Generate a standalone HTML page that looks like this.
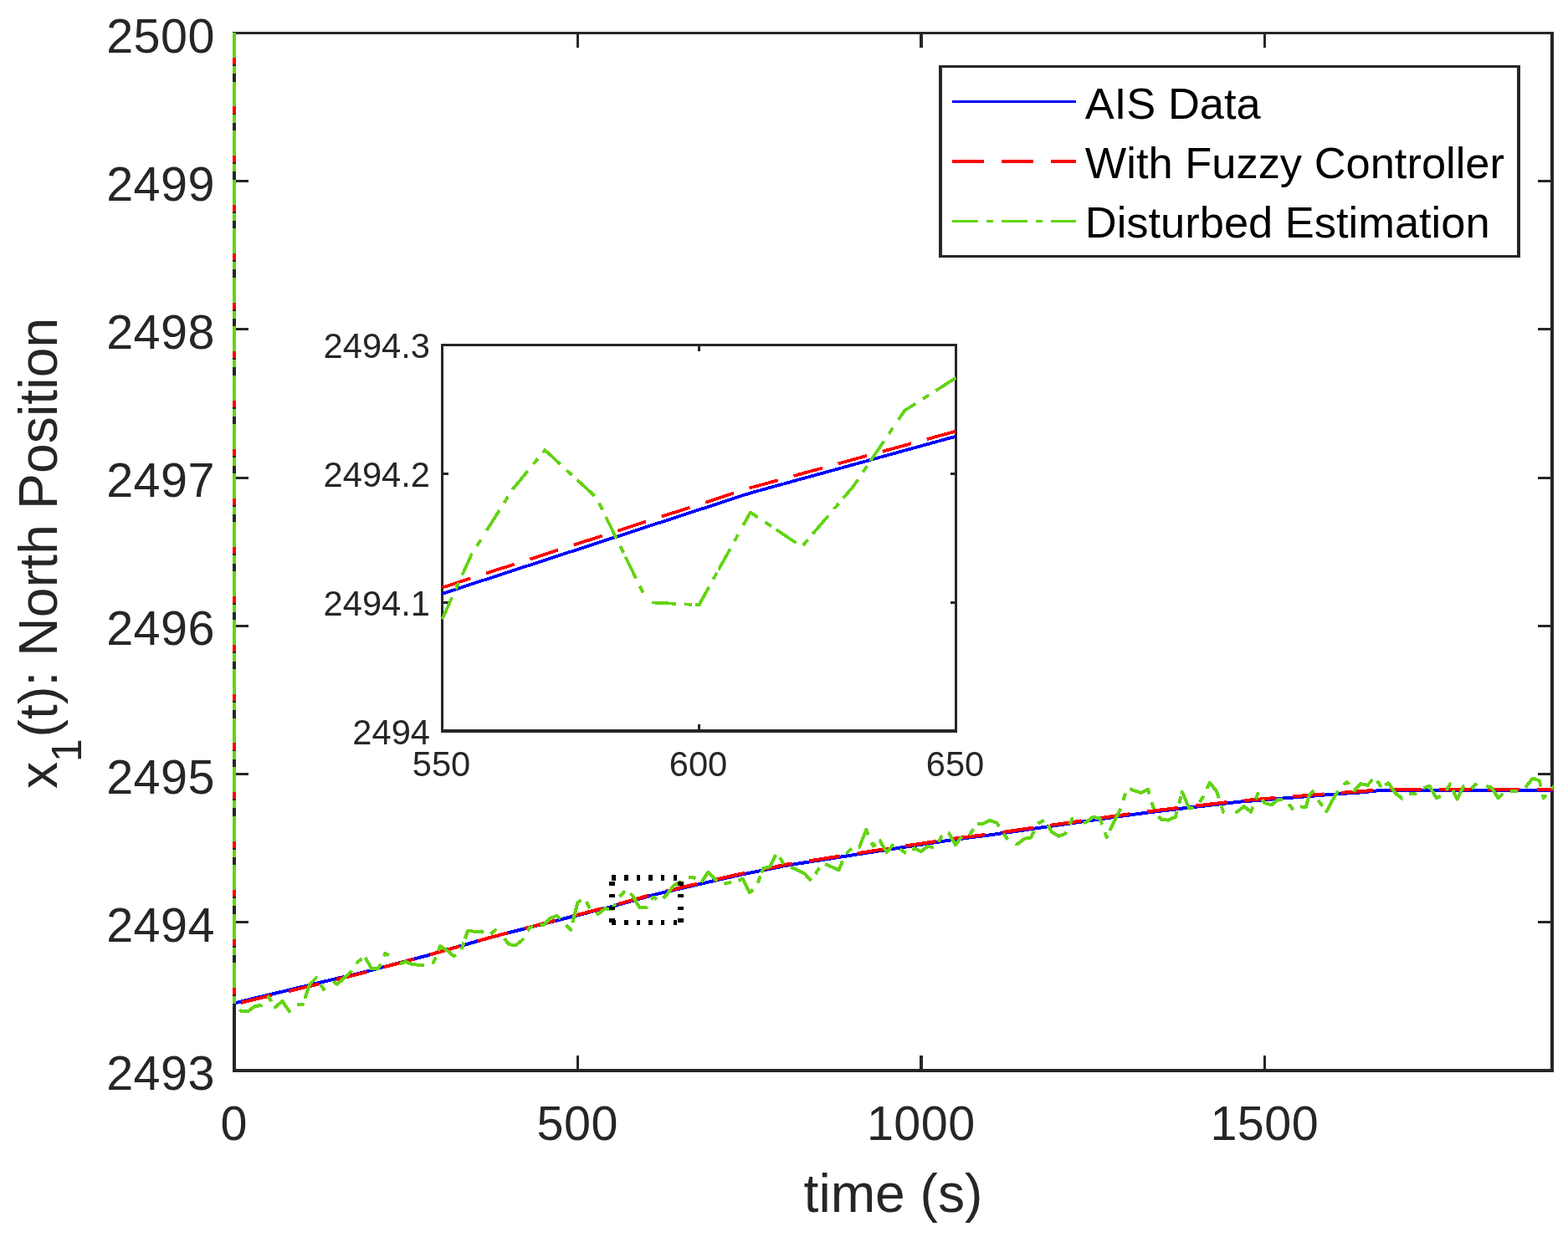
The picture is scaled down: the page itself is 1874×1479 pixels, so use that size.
<!DOCTYPE html>
<html lang="en"><head><meta charset="utf-8"><title>x1(t): North Position</title>
<style>html,body{margin:0;padding:0;background:#fff;overflow:hidden}svg{display:block}text{font-family:"Liberation Sans", Arial, Helvetica, sans-serif;fill:#262626}.tk{font-size:57.5px;letter-spacing:.45px}.lb{font-size:64.17px}.lg{font-size:52.45px}.lg text{fill:#000}.it{font-size:41.67px}.ax{fill:#262626;shape-rendering:crispEdges}.d{fill:none;stroke-width:4.0;stroke-linejoin:round;shape-rendering:crispEdges}</style></head><body>
<svg width="1874" height="1479" viewBox="0 0 1874 1479" role="img" aria-label="x1(t): North Position versus time">
<rect width="1874" height="1479" fill="#fff"/>
<defs><clipPath id="cm"><rect x="278" y="39" width="1578.5" height="1243"/></clipPath><clipPath id="ci"><rect x="527" y="411" width="617" height="465"/></clipPath></defs>
<g class="ax">
<rect x="278" y="38" width="4" height="1244"/>
<rect x="1853" y="38" width="4" height="1244"/>
<rect x="278" y="38" width="1579" height="3"/>
<rect x="278" y="1278" width="1579" height="4"/>
<rect x="689" y="1262" width="3" height="18"/>
<rect x="689" y="40" width="3" height="17"/>
<rect x="1099" y="1262" width="4" height="18"/>
<rect x="1099" y="40" width="4" height="17"/>
<rect x="1510" y="1262" width="3" height="18"/>
<rect x="1510" y="40" width="3" height="17"/>
<rect x="281" y="1101" width="16" height="3"/>
<rect x="1838" y="1101" width="17" height="3"/>
<rect x="281" y="924" width="16" height="3"/>
<rect x="1838" y="924" width="17" height="3"/>
<rect x="281" y="747" width="16" height="3"/>
<rect x="1838" y="747" width="17" height="3"/>
<rect x="281" y="570" width="16" height="3"/>
<rect x="1838" y="570" width="17" height="3"/>
<rect x="281" y="392" width="16" height="3"/>
<rect x="1838" y="392" width="17" height="3"/>
<rect x="281" y="215" width="16" height="3"/>
<rect x="1838" y="215" width="17" height="3"/>
</g>
<g class="tk" text-anchor="end">
<text x="256.9" y="1303">2493</text>
<text x="256.9" y="1125.79">2494</text>
<text x="256.9" y="948.57">2495</text>
<text x="256.9" y="771.36">2496</text>
<text x="256.9" y="594.14">2497</text>
<text x="256.9" y="416.93">2498</text>
<text x="256.9" y="239.71">2499</text>
<text x="256.9" y="62.5">2500</text>
</g>
<g class="tk" text-anchor="middle">
<text x="279.65" y="1362.5">0</text>
<text x="690.2" y="1362.5">500</text>
<text x="1100.75" y="1362.5">1000</text>
<text x="1511.3" y="1362.5">1500</text>
</g>
<text class="lb" text-anchor="middle" x="1067.5" y="1449">time (s)</text>
<text class="lb" transform="translate(68 943) rotate(-90)">x<tspan dy="28.7" font-size="50px">1</tspan><tspan dy="-28.7" dx="1.5" letter-spacing="0.15">(t): North Position</tspan></text>
<g class="d" clip-path="url(#cm)">
<polyline stroke="#0000ff" points="279.85,1199.46 398.09,1171.01 430.03,1163.69 509.76,1142.66 579.96,1122.6 605.83,1115.72 699.43,1091.98 731.46,1083.88 780.72,1070 813.57,1062.2 879.99,1047 940.01,1034.74 1030.01,1020.59 1139.54,1003.9 1180.02,998.76 1330.04,977.14 1380.12,970.41 1479.97,958.78 1600.18,949.14 1629.98,947.19 1646.98,945.3 1860.47,945.3"/>
<path stroke="#ff0000" stroke-dasharray="37.2 21.34" d="M280 39.8V1199.46"/>
<path stroke="#ff0000" d="M288 1198.82L288.06 1198.81L292.17 1197.82L296.27 1196.83L300.38 1195.85L304.48 1194.86L308.59 1193.87L312.69 1192.88L316.8 1191.9L320.91 1190.91L324.56 1190.03M345.1 1185.09L345.54 1184.98L349.64 1184L353.75 1183.01L357.85 1182.02L361.96 1181.03L366.07 1180.05L370.17 1179.06L374.28 1178.07L378.38 1177.08L381.66 1176.29M401.9 1171.21L403.02 1170.93L407.12 1169.92L411.23 1168.91L415.33 1167.9L419.44 1166.89L423.54 1165.88L427.65 1164.87L431.75 1163.8L435.86 1162.65L438.34 1161.95M458.8 1156.41L460.49 1155.96L464.6 1154.86L468.7 1153.77L472.81 1152.67L476.91 1151.57L481.02 1150.48L485.12 1149.38L489.23 1148.28L493.34 1147.19L495.13 1146.71M513.9 1141.6L517.97 1140.43L522.07 1139.24L526.18 1138.05L530.29 1136.87L534.39 1135.68L538.5 1134.5L542.6 1133.31L546.71 1132.12L550.02 1131.17M571.1 1125.07L571.34 1125L575.45 1123.82L579.55 1122.63L583.66 1121.52L587.76 1120.41L591.87 1119.31L595.97 1118.2L600.08 1117.1L604.18 1115.99L607.37 1115.16M627.2 1110.03L628.82 1109.61L632.92 1108.55L637.03 1107.48L641.13 1106.42L645.24 1105.36L649.35 1104.3L653.45 1103.24L657.56 1102.17L661.66 1101.11L663.6 1100.61M683.6 1095.44L686.29 1094.74L690.4 1093.68L694.51 1092.61L698.61 1091.55L702.72 1090.49L706.82 1089.43L710.93 1088.37L715.03 1087.32L719.14 1086.26L720.01 1086.03M738.8 1081L739.67 1080.75L743.77 1079.59L747.88 1078.43L751.98 1077.26L756.09 1076.1L760.19 1074.94L764.3 1073.77L768.4 1072.61L772.51 1071.45L774.98 1070.75M796.8 1065.27L797.14 1065.19L801.25 1064.21L805.35 1063.23L809.46 1062.25L813.57 1061.26L817.67 1060.32L821.78 1059.37L825.88 1058.42L829.99 1057.48L833.41 1056.69M853.2 1052.12L854.62 1051.8L858.73 1050.85L862.83 1049.9L866.94 1048.96L871.04 1048.01L875.15 1047.06L879.25 1046.12L883.36 1045.25L887.46 1044.41L889.89 1043.91M910.1 1039.74L912.1 1039.33L916.2 1038.48L920.31 1037.64L924.41 1036.79L928.52 1035.95L932.62 1035.1L936.73 1034.25L940.84 1033.45L944.94 1032.81L946.99 1032.49M966.9 1029.36L969.57 1028.94L973.68 1028.29L977.79 1027.65L981.89 1027L986 1026.36L990.1 1025.71L994.21 1025.06L998.31 1024.42L1002.42 1023.77L1004.04 1023.52M1025 1020.22L1027.05 1019.9L1031.16 1019.26L1035.26 1018.64L1039.37 1018.01L1043.47 1017.38L1047.58 1016.76L1051.68 1016.13L1055.79 1015.51L1059.89 1014.88L1062.17 1014.53M1081.9 1011.52L1084.53 1011.12L1088.63 1010.5L1092.74 1009.87L1096.84 1009.25L1100.95 1008.62L1105.06 1007.99L1109.16 1007.37L1113.27 1006.74L1117.37 1006.12L1119.07 1005.86M1139.5 1002.77L1142.01 1002.42L1146.11 1001.9L1150.22 1001.38L1154.32 1000.86L1158.43 1000.34L1162.53 999.82L1166.64 999.29L1170.74 998.77L1174.85 998.25L1176.8 998M1198.2 994.97L1199.48 994.79L1203.59 994.2L1207.69 993.61L1211.8 993.01L1215.9 992.42L1220.01 991.83L1224.12 991.24L1228.22 990.65L1232.33 990.05L1235.42 989.61M1255 986.78L1256.96 986.5L1261.06 985.91L1265.17 985.32L1269.28 984.73L1273.38 984.13L1277.49 983.54L1281.59 982.95L1285.7 982.36L1289.8 981.77L1292.22 981.42M1313 978.42L1314.44 978.22L1318.54 977.62L1322.65 977.03L1326.75 976.44L1330.86 975.86L1334.96 975.3L1339.07 974.75L1343.17 974.2L1347.28 973.65L1350.24 973.25M1371.2 970.43L1371.91 970.33L1376.02 969.78L1380.12 969.23L1384.23 968.75L1388.34 968.27L1392.44 967.79L1396.55 967.32L1400.65 966.84L1404.76 966.36L1408.53 965.92M1429.3 963.5L1429.39 963.49L1433.5 963.01L1437.6 962.53L1441.71 962.06L1445.81 961.58L1449.92 961.1L1454.02 960.62L1458.13 960.14L1462.23 959.66L1466.34 959.19L1466.65 959.15M1487.1 957.03L1490.97 956.72L1495.08 956.39L1499.18 956.06L1503.29 955.73L1507.39 955.4L1511.5 955.07L1515.61 954.74L1519.71 954.41L1523.82 954.08L1524.58 954.02M1545.1 952.37L1548.45 952.1L1552.56 951.77L1556.66 951.44L1560.77 951.11L1564.87 950.78L1568.98 950.45L1573.08 950.13L1577.19 949.8L1581.29 949.47L1582.58 949.36M1603.2 947.75L1605.93 947.57L1610.03 947.31L1614.14 947.04L1618.24 946.77L1622.35 946.5L1626.45 946.23L1630.56 945.94L1634.66 945.48L1638.77 945.02L1640.68 944.81M1661 944.1L1663.4 944.1L1667.51 944.1L1671.61 944.1L1675.72 944.1L1679.83 944.1L1683.93 944.1L1688.04 944.1L1692.14 944.1L1696.25 944.1L1698.6 944.1M1719.9 944.1L1720.88 944.1L1724.99 944.1L1729.09 944.1L1733.2 944.1L1737.3 944.1L1741.41 944.1L1745.51 944.1L1749.62 944.1L1753.72 944.1L1757.5 944.1M1778 944.1L1778.36 944.1L1782.46 944.09L1786.57 944.09L1790.67 944.09L1794.78 944.09L1798.89 944.09L1802.99 944.09L1807.1 944.09L1811.2 944.09L1815.31 944.09L1815.6 944.09M1837 944.09L1839.94 944.09L1844.05 944.09L1848.15 944.09L1852.26 944.09L1856.36 944.09L1860.47 944.09"/>
<path stroke="#63d412" stroke-dasharray="29.9 10 9.3 9.34" d="M280 39V1200.3"/>
<path stroke="#63d412" d="M286.2 1206.99L288.06 1209L296.27 1209.2L304.48 1203.2L312.69 1201.8L312.92 1201.53M319.32 1193.98L320.91 1192.1L324.48 1197.46M328.1 1202.88L329.12 1204.4L337.33 1196.8L345.54 1208.8L347.17 1207.27M354.63 1201.08L361.96 1200.9L362.47 1199.41M364.3 1194.03L370.17 1176.8L378.38 1168.7L378.41 1168.75M383.39 1177.31L386.59 1182.8L388.06 1180.72M398.1 1173.45L403.02 1176.8L411.23 1169.5L419.44 1161.8L420.36 1160.48M426.01 1152.35L427.65 1150L432.41 1146.29M436.6 1144.94L444.07 1158.4L452.28 1158.1L454.81 1152.46M458.87 1143.42L460.49 1139.8L464.77 1142.25M478.1 1152.22L485.12 1150L493.34 1153.4L501.55 1153.6L506.87 1153.92M516.28 1151.56L517.97 1150.9L520.69 1144.35M523.7 1137.08L526.18 1131.1L534.39 1136.4L542.6 1143.4L544.86 1141.81M551.64 1135.12L554.44 1126.68M555.8 1122.6L559.02 1112.9L567.24 1113.7L575.45 1113.5L578.06 1115.19M586.22 1116.81L591.87 1112.4L593.27 1113.42M602.9 1122.11L608.29 1129.2L616.5 1130.2L624.71 1123.5L625.71 1121.74M630.59 1113.12L632.92 1109L636.95 1107.97M645.6 1106.41L649.35 1106L657.56 1097.9L665.77 1094.9L669.87 1098.94M676.76 1106.05L682.19 1112L682.39 1111.18M684.4 1103.14L690.4 1079.1L694.57 1076.31M700.8 1078.14L704.67 1086.15M712.2 1092.04L715.03 1092.8L723.24 1086.2L731.46 1087.4L735.48 1080.44M740.69 1072.06L746.65 1065.46M753.3 1068.53L756.09 1070.8L764.3 1085.1L772.51 1085.4L773.32 1084.14M778.7 1075.83L780.72 1072.7L785.21 1075.27M792.6 1073.69L797.14 1069.1L805.35 1058.7L813.57 1054.1L814.14 1053.75M822.74 1049.15L829.99 1049.5L831.34 1050.43M838.2 1055.1L846.41 1042.7L854.62 1051.2L857.1 1053.08M865.49 1056.79L871.04 1055.5L874.21 1055.11M882.4 1053.04L887.46 1050.7L895.68 1067.3L900.07 1063.66M905.6 1055.87L908.69 1047.52M910.1 1043.7L912.1 1038.3L920.31 1036.2L927.18 1022.23M932.04 1025.38L936.62 1033.02M945.1 1036.67L953.15 1040.4L961.36 1044.3L969.39 1053M974.55 1044.96L977.79 1039.6L979.82 1037.91M986.1 1032.85L994.21 1036.6L1002.42 1040.4L1007.07 1029.53M1011.24 1020.63L1017.73 1014.54M1026.3 1012.95L1027.05 1012.9L1035.26 992L1037.81 998.08M1041.63 1007.21L1043.47 1011.6L1046.74 1009.05M1051.2 1005.58L1051.68 1005.2L1059.89 1019.3L1067.92 1009.24M1075.68 1014.9L1076.32 1015.4L1082.7 1020.37M1090.4 1016.44L1092.74 1014.3L1100.95 1018L1109.16 1011.6L1116.04 1013.78M1121.54 1006.79L1125.58 999.6L1126.17 999.33M1133.6 995.89L1133.79 995.8L1142.01 1010.3L1149.69 999.91M1158.81 998.9L1163.11 991.11M1168.1 984.72L1174.85 984.8L1183.06 980.9L1191.27 983.9L1194.09 988.29M1199.43 996.63L1199.48 996.7L1204.6 1003.87M1213.5 1009.12L1215.9 1009.5L1224.12 1002.9L1232.33 1001.4L1236 993.75M1240.28 984.83L1240.54 984.3L1248.08 980.81M1252.4 986.77L1256.96 994.6L1265.17 999.7L1273.38 996.7L1274.34 994.58M1278.43 985.56L1281.59 978.6L1282.5 979.47M1295.1 984.31L1298.01 983.1L1306.22 976.9L1314.44 978.4L1317.15 985.94M1320.5 995.25L1322.65 1001.2L1323.73 998.86M1326.3 993.28L1330.86 983.4L1339.07 966.9L1339.22 966.44M1342.29 957.02L1345.04 948.56M1350.3 943.02L1355.49 945.3L1363.7 947.9L1371.91 943.6L1373.7 949.59M1376.52 959.08L1379.06 967.61M1384.5 975.94L1388.34 980.1L1396.55 980.6L1404.76 976.7L1406.57 970.12M1409.19 960.57L1411.54 951.99M1412.2 949.6L1412.97 946.8L1421.18 966.6L1426.52 965.43M1433.53 959.21L1437.6 953.7L1438.45 951.83M1442.5 942.96L1445.81 935.7L1454.02 946L1456.7 954.22M1459.77 963.63L1462.23 971.2L1463.14 971.45M1476.3 971.36L1478.66 970.5L1486.87 964.1L1495.08 970.7L1497.31 964.76M1500.8 955.5L1503.29 948.9L1504.39 950.39M1508.4 955.81L1511.5 960L1519.71 962.4L1527.92 955.6L1533.29 955.67M1540.33 961.38L1544.34 966.8L1546.4 966.17M1554.1 964.43L1560.77 965L1564.87 950.2L1568.98 946.4L1570.14 948.22M1575.49 956.55L1577.19 959.2L1580.65 963.79M1584.4 968.77L1585.4 970.1L1593.61 954.9L1599.19 945.58M1605.67 938.34L1610.03 935.1L1612.23 937.78M1617.7 944.44L1618.24 945.1L1626.45 937.2L1634.66 938.8L1640.39 931.62M1645.98 933.53L1650.66 941.1M1655.4 938.86L1659.3 936.2L1667.51 948.2L1675.72 954.7L1675.78 954.66M1684.13 949.39L1692.14 949L1692.82 948.44M1701.1 942L1708.56 940L1716.78 954.2L1721.92 951.82M1728.49 944.9L1733.2 937.5L1733.25 937.62M1736.5 944.74L1741.41 955.5L1749.62 939.6L1749.69 939.63M1758.48 942.9L1765.01 936.85M1776.2 939.97L1782.46 941.5L1790.67 954.3L1796.4 948.51M1805.24 946.39L1807.1 946.5L1814.13 946.07M1823 941.32L1823.52 941L1831.73 930.6L1839.94 933.5L1841.61 940.54M1843.89 950.17L1844.87 954.3L1848.15 951L1848.15 951M1854.22 943.17L1856.36 940.4L1864.57 944"/>
</g>
<g fill="none" stroke="#000" stroke-width="6.5" stroke-dasharray="4.4 10.25" shape-rendering="crispEdges">
<path d="M731.46 1102.79V1049.62"/>
<path d="M813.57 1102.79V1049.62"/>
<path d="M731.46 1049.62H813.57"/>
<path d="M731.46 1102.79H813.57"/>
</g>
<rect x="1124" y="79.5" width="691" height="227" fill="#fff" stroke="none"/>
<g class="ax">
<rect x="1122" y="78" width="4" height="230"/>
<rect x="1813" y="78" width="4" height="230"/>
<rect x="1122" y="78" width="695" height="3"/>
<rect x="1122" y="305" width="695" height="3"/>
</g>
<g class="d" stroke-linecap="butt">
<path stroke="#0000ff" style="stroke-width:3" d="M1138 121.5H1286"/>
<path stroke="#ff0000" style="stroke-width:4" stroke-dasharray="38 21" d="M1138 193H1286"/>
<path stroke="#63d412" style="stroke-width:3" stroke-dasharray="31 10 8 10" d="M1138 264.5H1286"/>
</g>
<g class="lg">
<text x="1296.8" y="142">AIS Data</text>
<text x="1296.8" y="213">With Fuzzy Controller</text>
<text x="1296.8" y="284">Disturbed Estimation</text>
</g>
<rect x="528.5" y="412.5" width="614" height="461.5" fill="#fff"/>
<g class="ax">
<rect x="527" y="411" width="3" height="465"/>
<rect x="1141" y="411" width="3" height="465"/>
<rect x="527" y="411" width="617" height="3"/>
<rect x="527" y="872" width="617" height="4"/>
<rect x="834" y="866" width="3" height="7"/>
<rect x="834" y="413" width="3" height="7"/>
<rect x="529" y="719" width="7" height="3"/>
<rect x="1136" y="719" width="7" height="3"/>
<rect x="529" y="565" width="7" height="3"/>
<rect x="1136" y="565" width="7" height="3"/>
</g>
<g class="it" text-anchor="end">
<text x="514" y="889.5">2494</text>
<text x="514" y="735.67">2494.1</text>
<text x="514" y="581.83">2494.2</text>
<text x="514" y="428">2494.3</text>
</g>
<g class="it" text-anchor="middle">
<text x="527.5" y="928">550</text>
<text x="834.5" y="928">600</text>
<text x="1141.5" y="928">650</text>
</g>
<g class="d" clip-path="url(#ci)" style="stroke-width:3.8">
<polyline stroke="#0000ff" points="528.5,709.86 896.9,589.41 1142.5,521.72"/>
<polyline stroke="#ff0000" stroke-dasharray="35.6 19.5" stroke-dashoffset="0" points="528.5,702.48 896.9,583.26 1142.5,515.57"/>
<path stroke="#63d412" d="M528.5 740.17L540.33 714.12M544.67 704.56L548.31 696.55M552.3 687.75L563.5 663.09L564.31 661.81M569.9 652.93L574.59 645.48M581.6 634.35L596.84 610.15M602.44 601.27L607.13 593.82M612.5 585.29L612.62 585.1L630.67 563.2M637.35 555.1L642.95 548.31M648.8 541.21L651.3 538.18L669.44 554.9M677.16 562.02L683.63 567.99M689.6 573.49L710.63 592.88M716.08 601.69L719.95 609.59M724 617.87L736.58 643.55M741.2 652.98L745.07 660.88M747.4 665.65L759.98 691.33M764.6 700.76L768.47 708.67M779.1 720.42L807.66 721.85M818.15 722.37L826.94 722.81M831.3 723.03L835.5 723.24L847.33 701.91M852.42 692.73L856.68 685.03M858.8 681.21L872.67 656.2M877.76 647.02L882.02 639.32M888.2 628.18L896.9 612.48L905.75 618.42M914.46 624.28L921.77 629.18M927.7 633.16L951.44 649.11M959.75 652L965.47 645.31M971.3 638.47L989.86 616.71M996.67 608.72L1002.38 602.02M1007.8 595.67L1019.7 581.72L1025.45 573.22M1031.33 564.52L1036.26 557.23M1040.3 551.27L1056.33 527.58M1062.21 518.88L1067.14 511.59M1073.7 501.89L1081.1 490.96L1094.07 482.67M1102.92 477.01L1110.34 472.28M1118.4 467.12L1142.5 451.73L1142.5 451.73M1152.12 447.51L1154.78 446.34"/>
</g>
</svg></body></html>
